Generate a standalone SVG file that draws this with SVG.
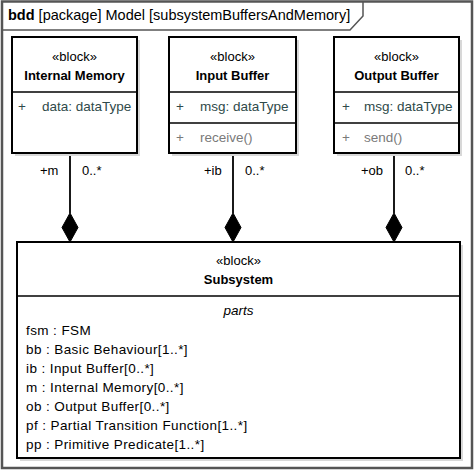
<svg xmlns="http://www.w3.org/2000/svg" width="474" height="470" viewBox="0 0 474 470">
<style>
text{font-family:"Liberation Sans",Arial,sans-serif;fill:#000}
.blk{fill:#fff;stroke:#000;stroke-width:2}
.sh{fill:#d8d8d8}
.div{stroke:#000;stroke-width:1.5}
.st{font-size:13px;text-anchor:middle}
.nm{font-size:13px;font-weight:bold;text-anchor:middle}
.att{font-size:13.5px;fill:#2f4a4a}
.op{font-size:13.5px;fill:#7a7a7a}
.lbl{font-size:13px}
.part{font-size:13.5px;letter-spacing:0.4px}
.con{stroke:#000;stroke-width:1.8;fill:none}
.dia{fill:#000;stroke:#000;stroke-width:1}
</style>
<rect x="0" y="0" width="474" height="470" fill="#fff"/>
<g id="frame">
<rect x="2" y="1.5" width="470" height="466.5" fill="#fff" stroke="#555" stroke-width="2.5"/>
<path d="M2,30 H350 L363,16 V1.5" fill="none" stroke="#555" stroke-width="1.5"/>
<text x="8" y="20" style="font-size:14.5px"><tspan font-weight="bold">bdd</tspan> [package] Model [subsystemBuffersAndMemory]</text>
</g>
<g id="connectors">
<line class="con" x1="70" y1="153" x2="70" y2="213"/>
<path class="dia" d="M70,213 L78,227.5 L70,242 L62,227.5 Z"/>
<line class="con" x1="233" y1="153" x2="233" y2="213"/>
<path class="dia" d="M233,213 L241,227.5 L233,242 L225,227.5 Z"/>
<line class="con" x1="394" y1="153" x2="394" y2="213"/>
<path class="dia" d="M394,213 L402,227.5 L394,242 L386,227.5 Z"/>
<text class="lbl" x="40" y="175">+m</text>
<text class="lbl" x="82" y="175">0..*</text>
<text class="lbl" x="204" y="175">+ib</text>
<text class="lbl" x="245" y="175">0..*</text>
<text class="lbl" x="361" y="175">+ob</text>
<text class="lbl" x="405" y="175">0..*</text>
</g>
<g id="internal-memory">
<rect class="sh" x="15" y="40" width="125" height="116"/>
<rect class="blk" x="12" y="37" width="125" height="116"/>
<text class="st" x="74.5" y="61">«block»</text>
<text class="nm" x="74.5" y="80">Internal Memory</text>
<line class="div" x1="12" y1="92" x2="137" y2="92"/>
<text class="att" x="18" y="111">+</text>
<text class="att" x="42" y="111">data: dataType</text>
</g>
<g id="input-buffer">
<rect class="sh" x="172" y="40" width="127" height="116"/>
<rect class="blk" x="169" y="37" width="127" height="116"/>
<text class="st" x="232.5" y="61">«block»</text>
<text class="nm" x="232.5" y="80">Input Buffer</text>
<line class="div" x1="169" y1="92" x2="296" y2="92"/>
<text class="att" x="176" y="111">+</text>
<text class="att" x="200" y="111">msg: dataType</text>
<line class="div" x1="169" y1="123" x2="296" y2="123"/>
<text class="op" x="176" y="142">+</text>
<text class="op" x="200" y="142">receive()</text>
</g>
<g id="output-buffer">
<rect class="sh" x="337" y="40" width="125" height="116"/>
<rect class="blk" x="334" y="37" width="125" height="116"/>
<text class="st" x="396.5" y="61">«block»</text>
<text class="nm" x="396.5" y="80">Output Buffer</text>
<line class="div" x1="334" y1="92" x2="459" y2="92"/>
<text class="att" x="342" y="111">+</text>
<text class="att" x="364" y="111">msg: dataType</text>
<line class="div" x1="334" y1="123" x2="459" y2="123"/>
<text class="op" x="342" y="142">+</text>
<text class="op" x="364" y="142">send()</text>
</g>
<g id="subsystem">
<rect class="sh" x="20" y="245" width="443" height="216"/>
<rect class="blk" x="17" y="242" width="443" height="216"/>
<text class="st" x="238.5" y="265">«block»</text>
<text class="nm" x="238.5" y="284">Subsystem</text>
<line class="div" x1="17" y1="296" x2="460" y2="296"/>
<text x="238.5" y="315" style="font-size:13.5px;font-style:italic;text-anchor:middle">parts</text>
<text class="part" x="26" y="335">fsm : FSM</text>
<text class="part" x="26" y="354">bb : Basic Behaviour[1..*]</text>
<text class="part" x="26" y="373">ib : Input Buffer[0..*]</text>
<text class="part" x="26" y="392">m : Internal Memory[0..*]</text>
<text class="part" x="26" y="411">ob : Output Buffer[0..*]</text>
<text class="part" x="26" y="430">pf : Partial Transition Function[1..*]</text>
<text class="part" x="26" y="449">pp : Primitive Predicate[1..*]</text>
</g>
</svg>
